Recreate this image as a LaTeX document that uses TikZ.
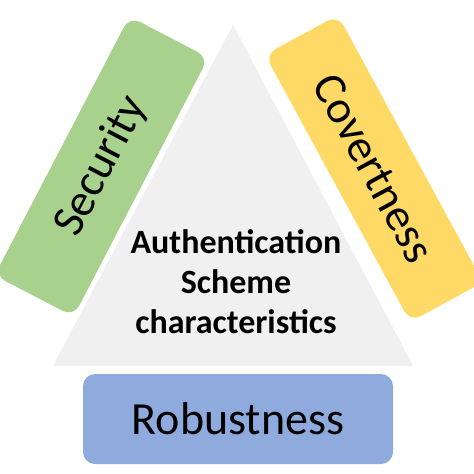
\documentclass[tikz,border=0pt]{standalone}
\usepackage{fontspec}
\setmainfont{Carlito}
\definecolor{secgreen}{HTML}{A9D18E}
\definecolor{covyellow}{HTML}{FFD966}
\definecolor{robblue}{HTML}{8FAADC}
\definecolor{trigray}{HTML}{F0F0F0}
\begin{document}
\begin{tikzpicture}[x=1pt,y=-1pt,
  charbox/.style={rounded corners=12pt, inner sep=0pt, align=center,
    font=\fontsize{46}{52}\selectfont, text=black},
  centertext/.style={align=center, inner sep=0pt,
    font=\bfseries\fontsize{34}{40}\selectfont}]
\useasboundingbox (0,0) rectangle (474,474);
\fill[white] (0,0) rectangle (474,474);
\clip (0,0) rectangle (474,474);
% triangle
\coordinate (apex) at (233,25);
\coordinate (bl) at (53,366);
\coordinate (br) at (413,366);
\fill[trigray] (apex) -- (br) -- (bl) -- cycle;
% side boxes
\node[charbox, fill=secgreen, rotate=62.5, minimum width=292pt, minimum height=89pt]
  (security) at (101.5,166.5) {Security};
\node[charbox, fill=covyellow, rotate=-61.5, minimum width=304pt, minimum height=83pt]
  (covert) at (374,168.5) {Covertness};
\node[charbox, fill=robblue, minimum width=310pt, minimum height=90pt]
  (robust) at (238,419) {Robustness};
% centre text
\node[centertext] (auth) at (236,282) {Authentication\\Scheme\\characteristics};
\end{tikzpicture}
\end{document}
